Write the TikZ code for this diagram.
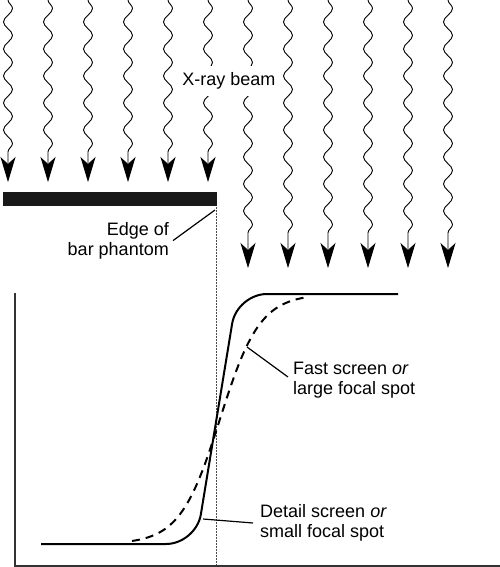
\documentclass[tikz,border=0pt]{standalone}
\usepackage{fontspec}
\setmainfont{Liberation Sans}
\usetikzlibrary{positioning,arrows.meta,decorations.pathmorphing}

\begin{document}
\begin{tikzpicture}[
  x=1pt, y=-1pt,
  ray/.style={line width=0.9pt, decorate, decoration={snake, amplitude=4.5pt, segment length=27pt, post length=26pt}, -{Stealth[length=25pt, width=15pt, inset=7pt]}},
  lbl/.style={font=\fontsize{18}{20}\selectfont, inner sep=0pt},
  lead/.style={line width=1.2pt},
  curva/.style={line width=2pt},
  eixo/.style={line width=1.2pt, black!80}
]
\useasboundingbox (0,0) rectangle (500,567);

% x-ray beam
\foreach \i in {0,...,5} {
  \coordinate (lt\i) at ({8+40*\i},0);
  \coordinate (lb\i) at ({8+40*\i},182);
  \draw[ray] (lt\i) -- (lb\i);
  \coordinate (rt\i) at ({248+40*\i},0);
  \coordinate (rb\i) at ({248+40*\i},268);
  \draw[ray] (rt\i) -- (rb\i);
}
\node[lbl, fill=white, inner xsep=1pt, inner ysep=7pt] (beam) at (229,81) {X-ray beam};

% bar phantom and its edge
\node[fill=black!90, minimum width=214pt, minimum height=14pt, inner sep=0pt, anchor=north west] (bar) at (3,192) {};
\coordinate (edgetop) at (216,207);
\coordinate (edgebot) at (216,567);
\draw[black!70, line width=1pt, dash pattern=on 1.5pt off 1.5pt] (edgetop) -- (edgebot);
\node[lbl, align=right, anchor=north east] (edgelbl) at (169,222) {Edge of\\bar phantom};
\coordinate (edgetip) at (215,210);
\draw[lead] ([xshift=4pt]edgelbl.east) -- (edgetip);

% axes
\coordinate (ytop) at (15,293);
\coordinate (origin) at (15,566);
\coordinate (xend) at (500,566);
\draw[eixo] (ytop) -- (origin) -- (xend);

% edge profiles
\draw[curva, rounded corners=30pt] (41,544) -- (196,544) -- (237,294) -- (398,294);
\draw[curva, dash pattern=on 8pt off 6pt] plot[domain=132:306, samples=70] (\x, {544-250/(1+exp(-(\x-220)/20))});

% labels
\node[lbl, align=left, anchor=west] (fast) at (293,380) {Fast screen \textit{or}\\large focal spot};
\coordinate (fastpt) at (247,347);
\draw[lead] (fastpt) -- ([xshift=-5pt, yshift=3pt]fast.west);
\node[lbl, align=left, anchor=west] (detail) at (260,523) {Detail screen \textit{or}\\small focal spot};
\coordinate (detailpt) at (203,519);
\draw[lead] (detailpt) -- ([xshift=-7pt]detail.west);
\end{tikzpicture}
\end{document}
